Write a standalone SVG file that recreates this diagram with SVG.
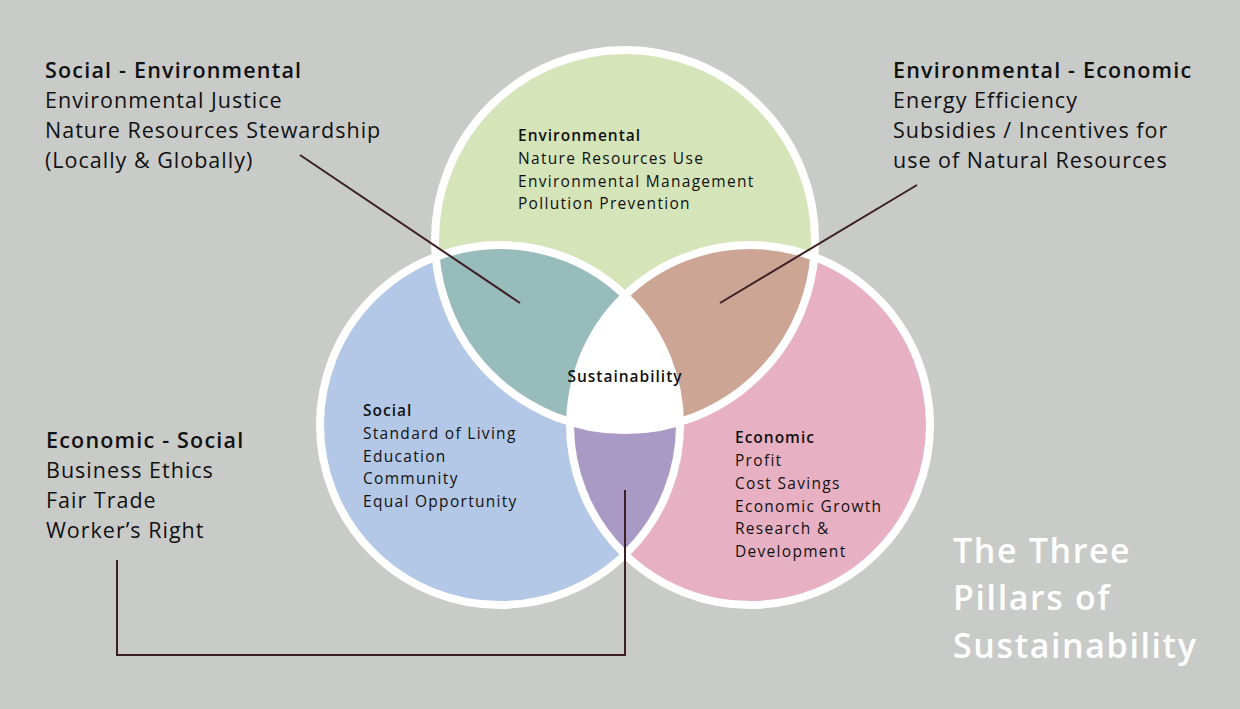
<svg xmlns="http://www.w3.org/2000/svg" width="1240" height="709" viewBox="0 0 1240 709">
<style>
text{font-family:"Open Sans",Lato,sans-serif;fill:#111}
.h{font-size:21.5px;font-weight:600;letter-spacing:1.2px}
.b{font-size:21.5px;letter-spacing:1px}
.ih{font-size:15.5px;font-weight:600;letter-spacing:1px}
.ib{font-size:15.5px;letter-spacing:1.3px}
.t{font-size:34px;fill:#fff;font-weight:600;letter-spacing:1.6px}
.ring{fill:none;stroke:#fff;stroke-width:8}
.conn{fill:none;stroke:#3b1f24;stroke-width:2}
</style>
<defs>
<clipPath id="cE"><circle cx="625" cy="240" r="190"/></clipPath>
<clipPath id="cS"><circle cx="500" cy="425" r="180"/></clipPath>
<clipPath id="cC"><circle cx="750" cy="425" r="180"/></clipPath>
</defs>
<rect width="1240" height="709" fill="#c9cbc9"/>
<g id="environmental"><circle cx="625" cy="240" r="190" fill="#d5e4b9"/></g>
<g id="social"><circle cx="500" cy="425" r="180" fill="#b3c8e6"/></g>
<g id="economic"><circle cx="750" cy="425" r="180" fill="#e8b1c3"/></g>
<g id="social-environmental" clip-path="url(#cE)"><circle cx="500" cy="425" r="180" fill="#98bbbb"/></g>
<g id="environmental-economic" clip-path="url(#cE)"><circle cx="750" cy="425" r="180" fill="#cda595"/></g>
<g id="economic-social" clip-path="url(#cS)"><circle cx="750" cy="425" r="180" fill="#a89ac4"/></g>
<g id="sustainability" clip-path="url(#cE)"><g clip-path="url(#cS)"><circle cx="750" cy="425" r="180" fill="#fff"/></g></g>
<g id="rings">
<circle class="ring" cx="625" cy="240" r="190"/>
<circle class="ring" cx="500" cy="425" r="180"/>
<circle class="ring" cx="750" cy="425" r="180"/>
</g>
<g id="connectors">
<line class="conn" x1="300" y1="155" x2="520" y2="303"/>
<line class="conn" x1="917" y1="185" x2="720" y2="303"/>
<polyline class="conn" points="117,560 117,655 625,655 625,490"/>
</g>
<g id="labels">
<text class="ih" x="518" y="141">Environmental</text>
<text class="ib" x="518" y="164">Nature Resources Use</text>
<text class="ib" x="518" y="187">Environmental Management</text>
<text class="ib" x="518" y="209">Pollution Prevention</text>
<text class="ih" x="363" y="416">Social</text>
<text class="ib" x="363" y="439">Standard of Living</text>
<text class="ib" x="363" y="462">Education</text>
<text class="ib" x="363" y="484">Community</text>
<text class="ib" x="363" y="507">Equal Opportunity</text>
<text class="ih" x="735" y="443">Economic</text>
<text class="ib" x="735" y="466">Profit</text>
<text class="ib" x="735" y="489">Cost Savings</text>
<text class="ib" x="735" y="512">Economic Growth</text>
<text class="ib" x="735" y="534">Research &amp;</text>
<text class="ib" x="735" y="557">Development</text>
<text class="ih" x="625" y="382" text-anchor="middle" font-size="18" letter-spacing="1.2">Sustainability</text>
<text class="h" x="45" y="78">Social - Environmental</text>
<text class="b" x="45" y="108">Environmental Justice</text>
<text class="b" x="45" y="138">Nature Resources Stewardship</text>
<text class="b" x="45" y="168">(Locally &amp; Globally)</text>
<text class="h" x="893" y="78">Environmental - Economic</text>
<text class="b" x="893" y="108">Energy Efficiency</text>
<text class="b" x="893" y="138">Subsidies / Incentives for</text>
<text class="b" x="893" y="168">use of Natural Resources</text>
<text class="h" x="46" y="448">Economic - Social</text>
<text class="b" x="46" y="478">Business Ethics</text>
<text class="b" x="46" y="508">Fair Trade</text>
<text class="b" x="46" y="538">Worker’s Right</text>
<text class="t" x="953" y="563">The Three</text>
<text class="t" x="953" y="610">Pillars of</text>
<text class="t" x="953" y="658">Sustainability</text>
</g>
</svg>
